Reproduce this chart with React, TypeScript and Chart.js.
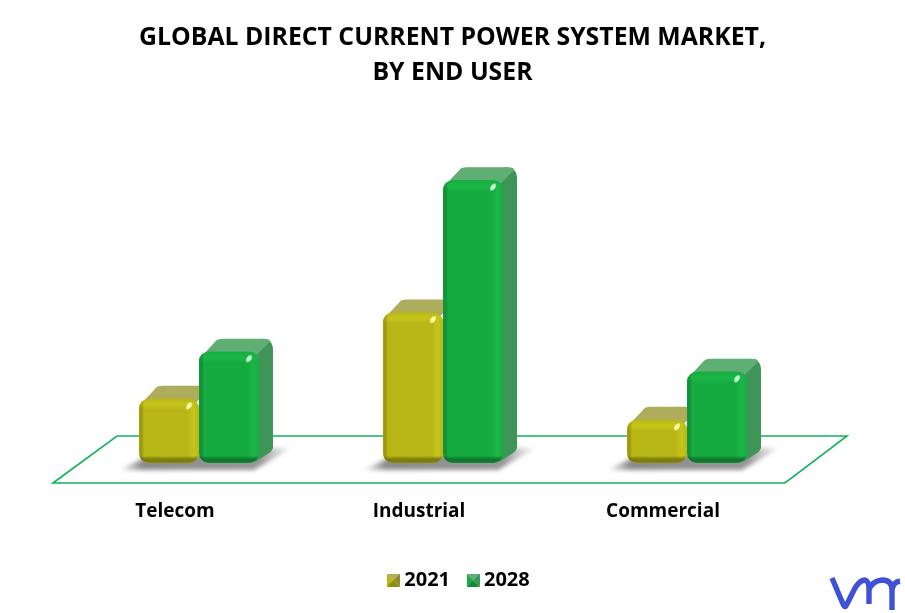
import React, { useEffect, useRef } from "react";
import { Chart, registerables } from "chart.js";

Chart.register(...registerables);

const titleLines = ["GLOBAL DIRECT CURRENT POWER SYSTEM MARKET,", "BY END USER"];
const categories = ["Telecom", "Industrial", "Commercial"];
const years = ["2021", "2028"];
const values2021 = [6.4, 15.0, 4.3];
const values2028 = [11.1, 28.2, 9.1];
const FONT = '"Open Sans", sans-serif';

const palette = [
  { front: "#b9b716", top: "#aead5c", side: "#8f8e2e", light: "#c6c41c", dark: "#8f8d0c", shine: "#fdfd9a" },
  { front: "#16ab40", top: "#5fae74", side: "#3f9457", light: "#1ab748", dark: "#128a34", shine: "#c4ffd2" },
];

function roundRect(ctx: CanvasRenderingContext2D, x: number, y: number, w: number, h: number, r: number) {
  ctx.beginPath();
  ctx.roundRect(x, y, w, h, r);
}

function legendIcon(c: (typeof palette)[number]) {
  const s = 13;
  const cv = document.createElement("canvas");
  cv.width = s;
  cv.height = s;
  const g = cv.getContext("2d")!;
  const m = s / 2;
  const tri = (ax: number, ay: number, bx: number, by: number, col: string) => {
    g.fillStyle = col;
    g.beginPath();
    g.moveTo(ax, ay);
    g.lineTo(bx, by);
    g.lineTo(m, m);
    g.closePath();
    g.fill();
  };
  tri(0, 0, s, 0, c.top);
  tri(0, 0, 0, s, c.front);
  tri(s, 0, s, s, c.side);
  tri(0, s, s, s, c.dark);
  return cv;
}

const depth = { x: 14, y: -13 };

const bars3d = {
  id: "bars3d",
  afterLayout(chart: any) {
    // the reference centres title and legend on the page rather than on the plot
    chart.titleBlock.left += 9.5;
    chart.titleBlock.right += 9.5;
    chart.legend.left += 18;
    chart.legend.right += 18;
  },
  beforeDatasetsDraw(chart: any) {
    const { ctx, chartArea, scales } = chart;
    const base = scales.y.getPixelForValue(0);
    const left = chartArea.left;
    const right = chartArea.right;
    // floor
    ctx.save();
    ctx.strokeStyle = "#12b35c";
    ctx.lineWidth = 1.6;
    ctx.beginPath();
    ctx.moveTo(left - 24, base + 20);
    ctx.lineTo(left + 40, base - 27);
    ctx.lineTo(right + 38, base - 27);
    ctx.lineTo(right - 24, base + 20);
    ctx.closePath();
    ctx.stroke();
    // shadows under every group
    const m0 = chart.getDatasetMeta(0).data;
    const m1 = chart.getDatasetMeta(1).data;
    m0.forEach((a: any, i: number) => {
      const b = m1[i];
      const x0 = a.x - a.width / 2;
      const x1 = b.x + b.width / 2;
      const grad = ctx.createLinearGradient(x0 - 22, 0, x1 + 36, 0);
      grad.addColorStop(0, "rgba(120,120,120,0)");
      grad.addColorStop(0.14, "rgba(110,110,110,0.8)");
      grad.addColorStop(0.8, "rgba(125,125,125,0.8)");
      grad.addColorStop(1, "rgba(160,160,160,0)");
      ctx.save();
      ctx.filter = "blur(2px)";
      ctx.fillStyle = grad;
      ctx.beginPath();
      ctx.moveTo(x0 - 20, base + 7);
      ctx.lineTo(x1 - 5, base + 7);
      ctx.lineTo(x1 + 33, base - 15);
      ctx.lineTo(x1 - 10, base - 15);
      ctx.lineTo(x0 + 5, base - 5);
      ctx.closePath();
      ctx.fill();
      ctx.restore();
    });
    ctx.restore();
  },
  beforeDatasetDraw(chart: any, args: any) {
    const { ctx } = chart;
    const c = palette[args.index];
    chart.getDatasetMeta(args.index).data.forEach((bar: any) => {
      const x = bar.x - bar.width / 2;
      const w = bar.width;
      const y = bar.y;
      ctx.save();
      // the first series stands in front of the second, whose front hides its extrusion
      if (args.index === 0) {
        ctx.beginPath();
        ctx.rect(x - 2, y + depth.y - 2, w + 2, bar.base - y - depth.y + 4);
        ctx.clip();
      }
      // side extrusion
      ctx.fillStyle = c.side;
      ctx.beginPath();
      ctx.moveTo(x + w - 10, y + 1);
      ctx.lineTo(x + w + depth.x - 12, y + depth.y);
      ctx.quadraticCurveTo(x + w + depth.x, y + depth.y, x + w + depth.x, y + depth.y + 11);
      ctx.lineTo(x + w + depth.x, bar.base + depth.y - 2);
      ctx.quadraticCurveTo(x + w + depth.x - 1, bar.base + depth.y + 1, x + w + depth.x - 4, bar.base + depth.y + 3);
      ctx.lineTo(x + w - 4, bar.base - 1);
      ctx.closePath();
      if (args.index !== 0) ctx.fill();
      // top extrusion
      ctx.fillStyle = c.top;
      ctx.beginPath();
      ctx.moveTo(x + 4, y + 3);
      ctx.lineTo(x + depth.x + 4, y + depth.y + 1);
      ctx.quadraticCurveTo(x + depth.x + 7, y + depth.y, x + depth.x + 10, y + depth.y);
      ctx.lineTo(x + w + depth.x - 10, y + depth.y);
      ctx.quadraticCurveTo(x + w + depth.x - 2, y + depth.y, x + w + depth.x - 3, y + depth.y + 3);
      ctx.lineTo(x + w - 4, y + 5);
      ctx.closePath();
      ctx.fill();
      ctx.restore();
    });
  },
  afterDatasetDraw(chart: any, args: any) {
    const { ctx } = chart;
    const c = palette[args.index];
    chart.getDatasetMeta(args.index).data.forEach((bar: any) => {
      const x = bar.x - bar.width / 2;
      const w = bar.width;
      const y = bar.y;
      const h = bar.base - bar.y;
      ctx.save();
      roundRect(ctx, x, y, w, h, 10);
      ctx.clip();
      // top bevel
      const topG = ctx.createLinearGradient(0, y, 0, y + 11);
      topG.addColorStop(0, c.front);
      topG.addColorStop(0.5, c.light);
      topG.addColorStop(1, c.front);
      ctx.fillStyle = topG;
      ctx.fillRect(x, y, w, 11);
      // right bevel
      const rG = ctx.createLinearGradient(x + w - 11, 0, x + w, 0);
      rG.addColorStop(0, c.front);
      rG.addColorStop(0.5, c.light);
      rG.addColorStop(1, c.front);
      ctx.fillStyle = rG;
      ctx.fillRect(x + w - 11, y + 5, 11, h - 10);
      // left edge
      const lG = ctx.createLinearGradient(x, 0, x + 5, 0);
      lG.addColorStop(0, c.dark);
      lG.addColorStop(1, "rgba(0,0,0,0)");
      ctx.globalAlpha = 0.5;
      ctx.fillStyle = lG;
      ctx.fillRect(x, y, 5, h);
      ctx.globalAlpha = 1;
      // bottom bevel
      const bG = ctx.createLinearGradient(0, bar.base - 7, 0, bar.base);
      bG.addColorStop(0, "rgba(0,0,0,0)");
      bG.addColorStop(1, c.dark);
      ctx.fillStyle = bG;
      ctx.fillRect(x, bar.base - 7, w, 7);
      // specular spot
      const sx = x + w - 10;
      const sy = y + 7;
      ctx.translate(sx, sy);
      ctx.rotate(Math.PI / 5);
      ctx.scale(0.7, 1.2);
      const sG = ctx.createRadialGradient(0, 0, 0.5, 0, 0, 4);
      sG.addColorStop(0, c.shine);
      sG.addColorStop(0.5, c.shine);
      sG.addColorStop(1, "rgba(255,255,255,0)");
      ctx.fillStyle = sG;
      ctx.fillRect(-5, -5, 10, 10);
      ctx.restore();
    });
  },
  afterDraw(chart: any) {
    // brand mark, bottom right corner
    const { ctx } = chart;
    ctx.save();
    ctx.strokeStyle = "#3f51d6";
    ctx.lineWidth = 5.4;
    ctx.lineCap = "butt";
    ctx.lineJoin = "round";
    ctx.beginPath();
    ctx.moveTo(832, 578);
    ctx.lineTo(843, 604);
    ctx.quadraticCurveTo(845, 609, 847, 604);
    ctx.lineTo(855, 588);
    ctx.quadraticCurveTo(860, 580, 865, 580);
    ctx.quadraticCurveTo(869, 581, 869, 590);
    ctx.lineTo(869, 604);
    ctx.moveTo(869, 590);
    ctx.quadraticCurveTo(872, 581, 882, 580);
    ctx.quadraticCurveTo(892, 580, 892, 590);
    ctx.lineTo(892, 610);
    ctx.moveTo(892, 590);
    ctx.quadraticCurveTo(893, 582, 900, 581);
    ctx.stroke();
    ctx.restore();
  },
};

export default function App() {
  const ref = useRef<HTMLCanvasElement>(null);
  useEffect(() => {
    document.body.style.margin = "0";
    const icons = palette.map(legendIcon);
    const chart = new Chart(ref.current!, {
      type: "bar",
      plugins: [bars3d],
      data: {
        labels: categories,
        datasets: [
          { label: years[0], data: values2021, backgroundColor: palette[0].front, borderRadius: 10, borderSkipped: false },
          { label: years[1], data: values2028, backgroundColor: palette[1].front, borderRadius: 10, borderSkipped: false },
        ],
      },
      options: {
        responsive: false,
        animation: false,
        devicePixelRatio: 1,
        layout: { padding: { left: 77, right: 96, top: 0, bottom: 13 } },
        datasets: { bar: { categoryPercentage: 0.4918, barPercentage: 1 } },
        scales: {
          x: {
            grid: { display: false },
            border: { display: false },
            afterFit(s: any) {
              s.height = 85;
            },
            ticks: {
              color: "#000",
              padding: 29,
              labelOffset: -24,
              maxRotation: 0,
              font: { family: FONT, weight: "bold", size: 19 },
            },
          },
          y: { display: false, min: 0, max: 36 },
        },
        plugins: {
          tooltip: { enabled: false },
          title: {
            display: true,
            text: titleLines,
            color: "#000",
            font: { family: FONT, weight: "bold", size: 24.8, lineHeight: 1.41 },
            padding: { top: 20, bottom: 12 },
          },
          legend: {
            position: "bottom",
            labels: {
              usePointStyle: true,
              pointStyleWidth: 2,
              color: "#000",
              padding: 22,
              font: { family: FONT, weight: "bold", size: 20 },
              generateLabels(c: any) {
                const items = Chart.defaults.plugins.legend.labels.generateLabels(c);
                items.forEach((it: any, i: number) => {
                  it.pointStyle = icons[i];
                });
                return items;
              },
            },
          },
        },
      },
    } as any);
    return () => chart.destroy();
  }, []);
  return <canvas ref={ref} width={905} height={613} style={{ display: "block", width: 905, height: 613 }} />;
}
